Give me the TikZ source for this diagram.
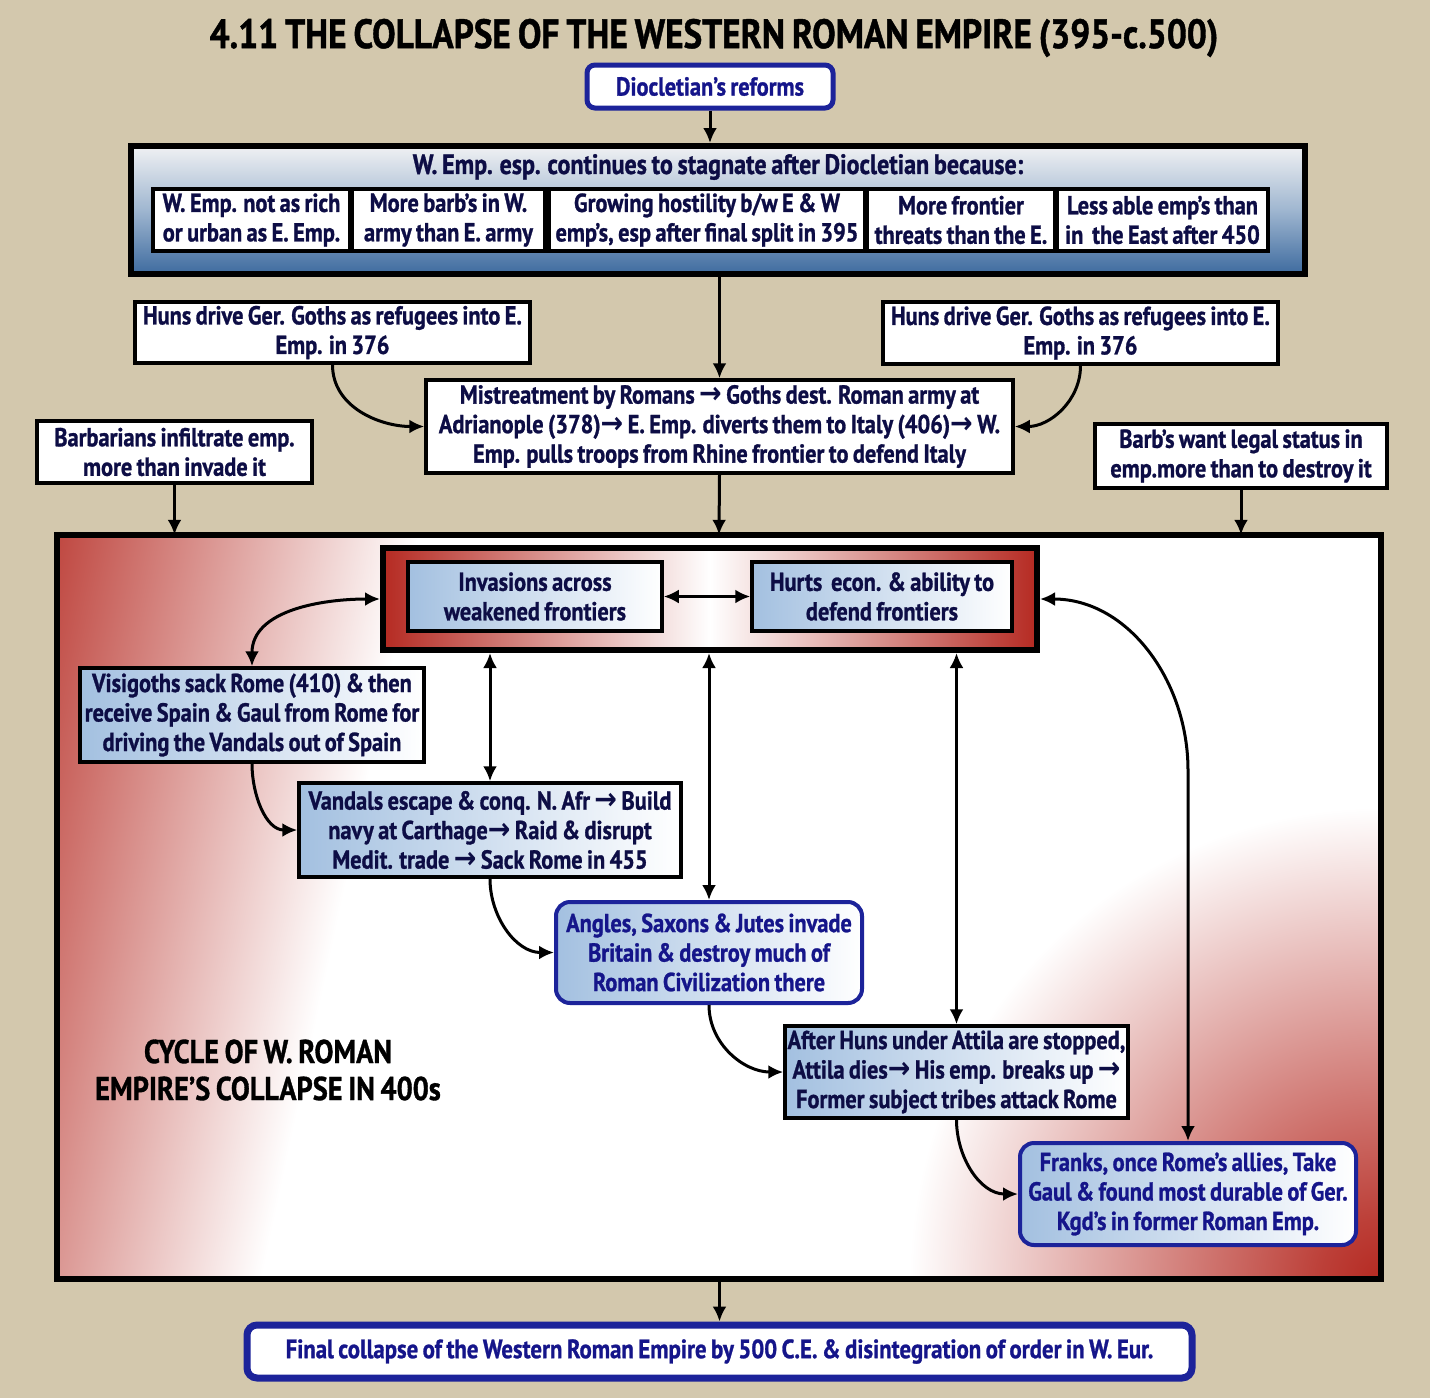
\documentclass[tikz,border=0pt]{standalone}
\usepackage{fontspec}
\setmainfont{PT Sans}[FakeStretch=0.86, FakeBold=1, WordSpace=0.78]
\newfontfamily\arrfont{DejaVu Sans}[FakeStretch=0.9]
\usetikzlibrary{arrows.meta}
\definecolor{bgtan}{HTML}{D3C8AD}
\definecolor{navytext}{HTML}{0D0D45}
\definecolor{bluetext}{HTML}{15158A}
\definecolor{bborder}{HTML}{1C239A}
\definecolor{lblue}{HTML}{A3C0E0}
\definecolor{romred}{HTML}{B52A22}
\definecolor{stagtop}{HTML}{F0F1F3}
\definecolor{stagmid}{HTML}{9FB6D0}
\definecolor{stagbot}{HTML}{3E6B9F}
\pgfdeclarehorizontalshading{lshade}{1200bp}{color(0bp)=(romred); color(80bp)=(romred!90!white); color(450bp)=(white); color(460bp)=(white)}
\pgfdeclareradialshading{brshade}{\pgfpoint{0bp}{0bp}}{color(0bp)=(romred); color(60bp)=(romred!90!white); color(470bp)=(white); color(480bp)=(white)}
\newcommand{\myarrow}{{\arrfont\fontsize{30}{29.5}\selectfont\symbol{"2192}}}
\tikzset{
  txt/.style={font=\fontsize{26}{29.5}\selectfont\bfseries, align=center, inner sep=0pt},
  wbox/.style={txt, draw=black, line width=3.5pt, fill=white, text=navytext},
  gbox/.style={txt, draw=black, line width=3.5pt, left color=lblue, right color=white, text=navytext},
  rbox/.style={txt, draw=bborder, line width=4pt, rounded corners=14pt, left color=lblue, right color=white, text=bluetext},
  arr/.style={line width=3pt, -{Latex[length=15pt,width=14pt]}},
  darr/.style={line width=3pt, {Latex[length=15pt,width=14pt]}-{Latex[length=15pt,width=14pt]}},
}
\begin{document}
\begin{tikzpicture}[x=1pt,y=1pt]
\fill[bgtan] (0,0) rectangle (1430,-1398);
\useasboundingbox (0,0) rectangle (1430,-1398);

% title
\node[font=\fontsize{41}{46}\selectfont\bfseries, inner sep=0pt] (title) at (714,-38) {4.11 THE COLLAPSE OF THE WESTERN ROMAN EMPIRE (395-c.500)};

% Diocletian
\node[txt, draw=bborder, line width=5pt, rounded corners=8pt, fill=white, text=bluetext, minimum width=246pt, minimum height=43pt] (dioc) at (710,-86.5) {Diocletian’s reforms};

% stagnation box
\node[draw=black, line width=6pt, top color=stagtop, bottom color=stagbot, middle color=stagmid, minimum width=1174pt, minimum height=128pt, inner sep=0pt] (stag) at (718,-210) {};
\node[txt, font=\fontsize{28}{30}\selectfont\bfseries, text=navytext] (stagh) at (718,-167) {W. Emp. esp. continues to stagnate after Diocletian because:};
\node[wbox, minimum width=197pt, minimum height=62pt] (c1) at (251.5,-220) {W. Emp. not as rich\\or urban as E. Emp.};
\node[wbox, minimum width=193pt, minimum height=62pt] (c2) at (448.5,-220) {More barb’s in W.\\army than E. army};
\node[wbox, minimum width=316pt, minimum height=62pt] (c3) at (707,-220) {Growing hostility b/w E \& W\\emp’s, esp after final split in 395};
\node[wbox, minimum width=188pt, minimum height=62pt] (c4) at (961,-220) {More frontier\\threats than the E.};
\node[wbox, minimum width=211pt, minimum height=62pt] (c5) at (1162.5,-220) {Less able emp’s than\\in\ \ the East after 450};

% Huns boxes
\node[wbox, minimum width=395pt, minimum height=61pt] (hunsL) at (332.5,-332.5) {Huns drive Ger. Goths as refugees into E.\\Emp. in 376};
\node[wbox, minimum width=395pt, minimum height=62pt] (hunsR) at (1080.5,-333) {Huns drive Ger. Goths as refugees into E.\\Emp. in 376};
\node[wbox, minimum width=587pt, minimum height=93pt] (mist) at (719.5,-426.5) {Mistreatment by Romans \myarrow\ Goths dest. Roman army at\\Adrianople (378)\myarrow\ E. Emp. diverts them to Italy (406)\myarrow\ W.\\Emp. pulls troops from Rhine frontier to defend Italy};
\node[wbox, minimum width=275pt, minimum height=62pt] (barbL) at (174.5,-452) {Barbarians infiltrate emp.\\more than invade it};
\node[wbox, minimum width=292pt, minimum height=64pt] (barbR) at (1241,-456) {Barb’s want legal status in\\emp.more than to destroy it};

% cycle box
\node[minimum width=1324pt, minimum height=744pt, inner sep=0pt] (cycle) at (719,-907) {};
\begin{scope}
  \clip (cycle.south west) rectangle (cycle.north east);
  \fill[white] (cycle.south west) rectangle (cycle.north east);
  \begin{scope}[shift={(420,-535)}, rotate=-12]
    \node[inner sep=0pt, anchor=east, transform shape] (lsh) at (10,-400) {\pgfuseshading{lshade}};
  \end{scope}
  \node[inner sep=0pt] (brsh) at (1381,-1279) {\pgfuseshading{brshade}};
\end{scope}
\draw[line width=6pt] (cycle.south west) rectangle (cycle.north east);

% frame
\node[draw=black, line width=6pt, left color=romred, right color=romred, middle color=white, minimum width=654pt, minimum height=102pt, inner sep=0pt] (frame) at (710,-599) {};
\node[gbox, minimum width=254pt, minimum height=69pt] (inv) at (535,-596.5) {Invasions across\\weakened frontiers};
\node[gbox, minimum width=260pt, minimum height=69pt] (hurts) at (882,-596.5) {Hurts\ \ econ. \& ability to\\defend frontiers};

\node[gbox, minimum width=344pt, minimum height=94pt] (visi) at (252,-715) {Visigoths sack Rome (410) \& then\\receive Spain \& Gaul from Rome for\\driving the Vandals out of Spain};
\node[gbox, minimum width=382pt, minimum height=94pt] (vand) at (490,-830) {Vandals escape \& conq. N. Afr \myarrow\ Build\\navy at Carthage\myarrow\ Raid \& disrupt\\Medit. trade \myarrow\ Sack Rome in 455};
\node[rbox, minimum width=306pt, minimum height=101pt] (angl) at (709,-952.5) {Angles, Saxons \& Jutes invade\\Britain \& destroy much of\\Roman Civilization there};
\node[gbox, minimum width=343pt, minimum height=92pt] (attila) at (956.5,-1072) {After Huns under Attila are stopped,\\Attila dies\myarrow\ His emp. breaks up \myarrow\\Former subject tribes attack Rome};
\node[rbox, minimum width=336pt, minimum height=102pt] (franks) at (1188,-1194) {Franks, once Rome’s allies, Take\\Gaul \& found most durable of Ger.\\Kgd’s in former Roman Emp.};

\node[font=\fontsize{33}{37}\selectfont\bfseries, align=center, inner sep=0pt] (cyct) at (268,-1070) {CYCLE OF W. ROMAN\\EMPIRE’S COLLAPSE IN 400s};

% final
\node[txt, font=\fontsize{26.5}{28}\selectfont\bfseries, draw=bborder, line width=7pt, rounded corners=10pt, fill=white, text=bluetext, minimum width=945pt, minimum height=53pt] (final) at (719.5,-1351.5) {Final collapse of the Western Roman Empire by 500 C.E. \& disintegration of order in W. Eur.};

% connectors
\coordinate (bend) at (1188,-770);
\draw[arr] (dioc.south) -- (dioc.south |- stag.north);
\draw[arr] (stag.south -| mist.north) -- (mist.north);
\draw[arr] (hunsL.south) to[out=270,in=180] (mist.west);
\draw[arr] (hunsR.south) to[out=270,in=0] (mist.east);
\draw[arr] (barbL.south) -- (barbL.south |- cycle.north);
\draw[arr] (barbR.south) -- (barbR.south |- cycle.north);
\draw[arr] (mist.south) -- (cycle.north);
\draw[darr] (inv.east) -- (hurts.west);
\draw[darr] (visi.north) to[out=90,in=180] (frame.west);
\draw[arr] (visi.south) to[out=270,in=180] (vand.west);
\draw[darr] (vand.north) -- (vand.north |- frame.south);
\draw[darr] (angl.north) -- (angl.north |- frame.south);
\draw[darr] (attila.north) -- (attila.north |- frame.south);
\draw[arr] (vand.south) to[out=270,in=180] (angl.west);
\draw[arr] (angl.south) to[out=270,in=180] (attila.west);
\draw[arr] (attila.south) to[out=270,in=180] (franks.west);
\draw[darr] (franks.north) -- (bend) to[out=90,in=0] (frame.east);
\draw[arr] (cycle.south -| final.north) -- (final.north);
\end{tikzpicture}
\end{document}
